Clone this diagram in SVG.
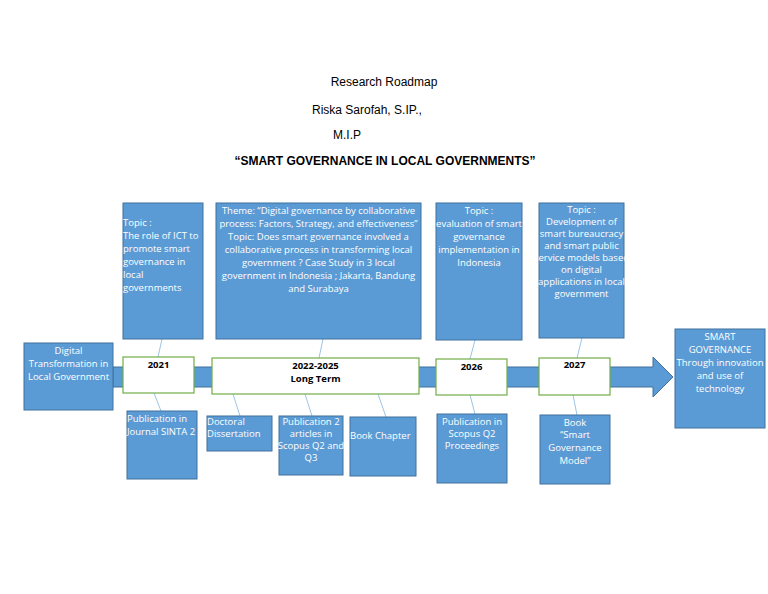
<svg xmlns="http://www.w3.org/2000/svg" width="768" height="594" viewBox="0 0 768 594">
<style>
.b{fill:#5b9bd5;stroke:#41719c;stroke-width:1}
.y{fill:#fff;stroke:#70ad47;stroke-width:1.2}
text{font-family:"Open Sans","Liberation Sans",sans-serif;font-size:9.5px}
.w{fill:#fff}
.k{fill:#000;font-weight:bold}
.c{stroke:#9dc3e6;stroke-width:1;fill:none}
.t{font-family:"Liberation Sans",sans-serif;font-size:12px;fill:#000}
</style>
<rect width="768" height="594" fill="#fff"/>
<g id="title">
<text class="t" x="384" y="86" text-anchor="middle">Research Roadmap</text>
<text class="t" x="312" y="114">Riska Sarofah, S.IP.,</text>
<text class="t" x="333" y="139">M.I.P</text>
<text class="t" x="385" y="165" text-anchor="middle" font-weight="bold" font-size="13">“SMART GOVERNANCE IN LOCAL GOVERNMENTS”</text>
</g>
<g id="arrow"><path class="b" d="M113,367H653V357L673,377L653,397V387H113Z"/></g>
<g id="connectors">
<line class="c" x1="162" y1="339" x2="158" y2="357"/>
<line class="c" x1="323" y1="339" x2="319" y2="358"/>
<line class="c" x1="475" y1="340" x2="470" y2="359"/>
<line class="c" x1="582" y1="338" x2="577" y2="358"/>
<line class="c" x1="154" y1="393" x2="161" y2="411"/>
<line class="c" x1="233" y1="394" x2="240" y2="416"/>
<line class="c" x1="305" y1="394" x2="312" y2="416"/>
<line class="c" x1="378" y1="394" x2="386" y2="417"/>
<line class="c" x1="470" y1="395" x2="475" y2="414"/>
<line class="c" x1="573" y1="395" x2="577" y2="415"/>
</g>
<g id="start"><rect class="b" x="24" y="343" width="89" height="67"/>
<text class="w" text-anchor="middle" x="68.5"><tspan x="68.5" y="354">Digital</tspan><tspan x="68.5" y="367">Transformation in</tspan><tspan x="68.5" y="380">Local Government</tspan></text></g>
<g id="topic1"><rect class="b" x="123" y="203" width="80" height="136"/>
<text class="w"><tspan x="123" y="226">Topic :</tspan><tspan x="123" y="239">The role of ICT to</tspan><tspan x="123" y="252">promote smart</tspan><tspan x="123" y="265">governance in</tspan><tspan x="123" y="278">local</tspan><tspan x="123" y="291">governments</tspan></text></g>
<g id="topic2"><rect class="b" x="216" y="203" width="205" height="136"/>
<text class="w" text-anchor="middle"><tspan x="318.5" y="214">Theme: “Digital governance by collaborative</tspan><tspan x="318.5" y="227">process: Factors, Strategy, and effectiveness”</tspan><tspan x="318.5" y="240">Topic: Does smart governance involved a</tspan><tspan x="318.5" y="253">collaborative process in transforming local</tspan><tspan x="318.5" y="266">government ? Case Study in 3 local</tspan><tspan x="318.5" y="279">government in Indonesia ; Jakarta, Bandung</tspan><tspan x="318.5" y="292">and Surabaya</tspan></text></g>
<g id="topic3"><rect class="b" x="436" y="203" width="86" height="137"/>
<text class="w" text-anchor="middle"><tspan x="479" y="214">Topic :</tspan><tspan x="479" y="227">evaluation of smart</tspan><tspan x="479" y="240">governance</tspan><tspan x="479" y="253">implementation in</tspan><tspan x="479" y="266">Indonesia</tspan></text></g>
<g id="topic4"><rect class="b" x="539" y="203" width="85" height="135"/>
<text class="w" text-anchor="middle" font-size="8.8"><tspan x="581.5" y="213">Topic :</tspan><tspan x="581.5" y="225">Development of</tspan><tspan x="581.5" y="237">smart bureaucracy</tspan><tspan x="581.5" y="249">and smart public</tspan><tspan x="581.5" y="261">service models based</tspan><tspan x="581.5" y="273">on digital</tspan><tspan x="581.5" y="285">applications in local</tspan><tspan x="581.5" y="297">government</tspan></text></g>
<g id="y2021"><rect class="y" x="123" y="357" width="71" height="36"/><text class="k" x="158.5" y="368" text-anchor="middle">2021</text></g>
<g id="y2022"><rect class="y" x="212" y="358" width="207" height="36"/><text class="k" text-anchor="middle"><tspan x="315.5" y="369">2022-2025</tspan><tspan x="315.5" y="382">Long Term</tspan></text></g>
<g id="y2026"><rect class="y" x="436" y="359" width="71" height="36"/><text class="k" x="471.5" y="370" text-anchor="middle">2026</text></g>
<g id="y2027"><rect class="y" x="539" y="358" width="71" height="37"/><text class="k" x="574.5" y="368" text-anchor="middle">2027</text></g>
<g id="sinta"><rect class="b" x="127" y="411" width="70" height="68"/><text class="w"><tspan x="127" y="422">Publication in</tspan><tspan x="127" y="435">Journal SINTA 2</tspan></text></g>
<g id="doctoral"><rect class="b" x="207" y="416" width="65" height="35"/><text class="w"><tspan x="207" y="425">Doctoral</tspan><tspan x="207" y="437">Dissertation</tspan></text></g>
<g id="pub2"><rect class="b" x="279" y="416" width="64" height="59"/><text class="w" text-anchor="middle"><tspan x="311" y="425">Publication 2</tspan><tspan x="311" y="437">articles in</tspan><tspan x="311" y="449">Scopus Q2 and</tspan><tspan x="311" y="461">Q3</tspan></text></g>
<g id="bookch"><rect class="b" x="350" y="417" width="66" height="59"/><text class="w" x="350" y="439">Book Chapter</text></g>
<g id="proc"><rect class="b" x="437" y="414" width="70" height="69"/><text class="w" text-anchor="middle"><tspan x="472" y="425">Publication in</tspan><tspan x="472" y="437">Scopus Q2</tspan><tspan x="472" y="449">Proceedings</tspan></text></g>
<g id="book"><rect class="b" x="540" y="415" width="70" height="69"/><text class="w" text-anchor="middle"><tspan x="575" y="426">Book</tspan><tspan x="575" y="438">“Smart</tspan><tspan x="575" y="451">Governance</tspan><tspan x="575" y="464">Model”</tspan></text></g>
<g id="goal"><rect class="b" x="675" y="329" width="90" height="99"/><text class="w" text-anchor="middle"><tspan x="720" y="340">SMART</tspan><tspan x="720" y="353">GOVERNANCE</tspan><tspan x="720" y="366">Through innovation</tspan><tspan x="720" y="379">and use of</tspan><tspan x="720" y="392">technology</tspan></text></g>
</svg>
